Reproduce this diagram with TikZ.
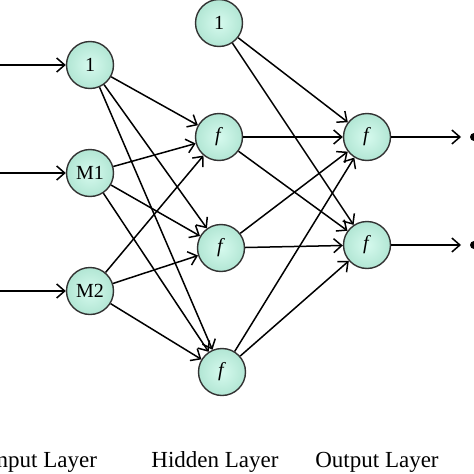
\documentclass[tikz,border=0pt]{standalone}
\usepackage{fontspec}
\setmainfont{Liberation Serif}
\usetikzlibrary{arrows.meta}
\definecolor{neuronfill}{HTML}{D6FAEE}
\definecolor{neuronedge}{HTML}{B2E6D4}
\tikzset{
		neuron/.style={circle, draw=black!80, line width=1.4pt, minimum size=47pt, inner sep=0pt,
			shading=radial, inner color=neuronfill, outer color=neuronedge,
			font=\fontsize{20}{20}\selectfont},
		layer label/.style={font=\fontsize{23}{26}\selectfont, anchor=base},
		out dot/.style={circle, fill=black, inner sep=0pt, minimum size=8pt}
	}
\begin{document}
\begin{tikzpicture}[x=1pt,y=-1pt,>={Straight Barb[length=8pt,width=14pt]},line width=1.5pt]
				\useasboundingbox (0,0) rectangle (474,474);
				% input layer
				\node[neuron] (i0) at (90,65)  {1};
				\node[neuron] (i1) at (90,173) {M1};
				\node[neuron] (i2) at (90,291) {M2};
				% hidden layer
				\node[neuron] (h0) at (219,23)  {1};
				\node[neuron] (h1) at (219,137) {\textit{f}};
				\node[neuron] (h2) at (221,248) {\textit{f}};
				\node[neuron] (h3) at (222,372) {\textit{f}};
				% output layer
				\node[neuron] (o1) at (367,137) {\textit{f}};
				\node[neuron] (o2) at (367,245) {\textit{f}};

				\coordinate (x0) at (0,65);
				\coordinate (x1) at (0,173);
				\coordinate (x2) at (0,291);
				\coordinate (y1) at (461,137);
				\coordinate (y2) at (461,245);
				\node[out dot] (d1) at (474,137) {};
				\node[out dot] (d2) at (474,245) {};

				\foreach \i in {0,1,2}
					\draw[->] (x\i) -- (i\i);
				\foreach \i in {0,1,2}
					\foreach \h in {1,2,3}
						\draw[->] (i\i) -- (h\h);
				\foreach \h in {0,...,3}
					\foreach \o in {1,2}
						\draw[->] (h\h) -- (o\o);
				\draw[->] (o1) -- (y1);
				\draw[->] (o2) -- (y2);

				\node[layer label] (lin)  at (43,467)  {Input Layer};
				\node[layer label] (lhid) at (215,467) {Hidden Layer};
				\node[layer label] (lout) at (377,467) {Output Layer};
			\end{tikzpicture}
\end{document}
